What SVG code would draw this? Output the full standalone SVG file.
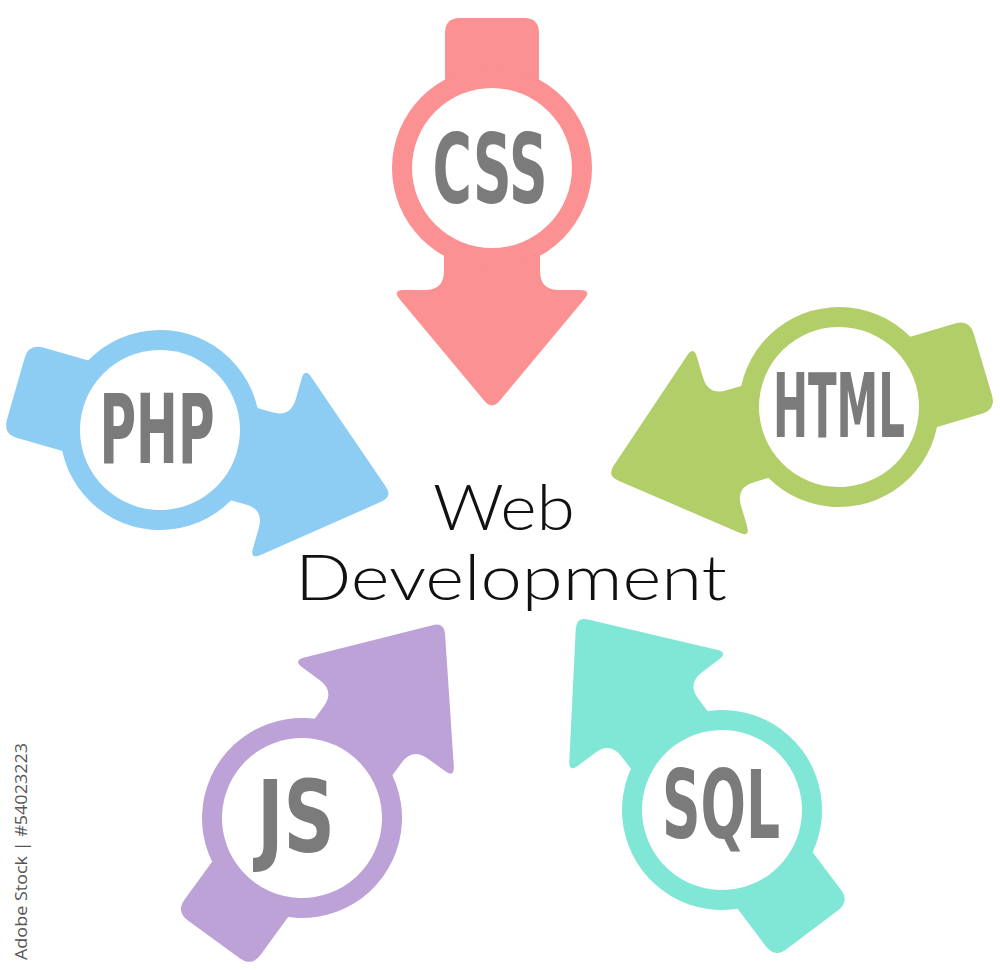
<svg xmlns="http://www.w3.org/2000/svg" xmlns:xlink="http://www.w3.org/1999/xlink" width="1000" height="970" viewBox="0 0 1000 970">
<style>
.lbl{font-family:"DejaVu Sans Condensed","Liberation Sans Narrow","Liberation Sans",sans-serif;font-weight:bold;fill:#7b7b7b;text-anchor:middle}
.title{font-family:"Lato","Inter","Open Sans",sans-serif;font-weight:300;fill:#111;text-anchor:middle;font-size:64px}
.wm{font-family:"Open Sans","DejaVu Sans",sans-serif;fill:#555;font-size:16px}
</style>
<defs>
<g id="arrow">
<path d="M -47 -40 L -47 -135 Q -47 -150 -32 -150 L 32 -150 Q 47 -150 47 -135 L 47 -40 Z"/>
<path d="M -48 60 L -48 103 Q -48 122 -67 122 L -88 122 Q -100 122 -92.3 131.2 L -7.7 232.8 Q 0 242 7.7 232.8 L 92.3 131.2 Q 100 122 88 122 L 67 122 Q 48 122 48 103 L 48 60 Z"/>
<circle r="100"/>
<circle r="80" fill="#ffffff"/>
</g>
</defs>
<rect width="1000" height="970" fill="#ffffff"/>
<g id="css">
<use xlink:href="#arrow" href="#arrow" transform="translate(492,168)" fill="#fb9192"/>
<text class="lbl" x="490" y="203" font-size="97" textLength="115" lengthAdjust="spacingAndGlyphs">CSS</text>
</g>
<g id="php">
<use xlink:href="#arrow" href="#arrow" transform="translate(160,430) rotate(-74)" fill="#8ecdf3"/>
<text class="lbl" x="157" y="463" font-size="97" textLength="115" lengthAdjust="spacingAndGlyphs">PHP</text>
</g>
<g id="html">
<use xlink:href="#arrow" href="#arrow" transform="translate(839,407) rotate(73.5)" fill="#b2ce69"/>
<text class="lbl" x="839" y="437" font-size="89" textLength="132" lengthAdjust="spacingAndGlyphs">HTML</text>
</g>
<g id="js">
<use xlink:href="#arrow" href="#arrow" transform="translate(302,818) rotate(-144)" fill="#bda2d8"/>
<text class="lbl" x="296" y="852" font-size="100" textLength="78" lengthAdjust="spacingAndGlyphs">JS</text>
</g>
<g id="sql">
<use xlink:href="#arrow" href="#arrow" transform="translate(722,810) rotate(143)" fill="#80e6d6"/>
<text class="lbl" x="721" y="838" font-size="94" textLength="118" lengthAdjust="spacingAndGlyphs">SQL</text>
</g>
<g id="center-title">
<text class="title" x="504" y="530" textLength="142" lengthAdjust="spacingAndGlyphs">Web</text>
<text class="title" x="511" y="600" textLength="432" lengthAdjust="spacingAndGlyphs">Development</text>
</g>
<g id="watermark">
<text class="wm" transform="translate(27,960) rotate(-90)" textLength="217" lengthAdjust="spacingAndGlyphs">Adobe Stock | #54023223</text>
</g>
</svg>
